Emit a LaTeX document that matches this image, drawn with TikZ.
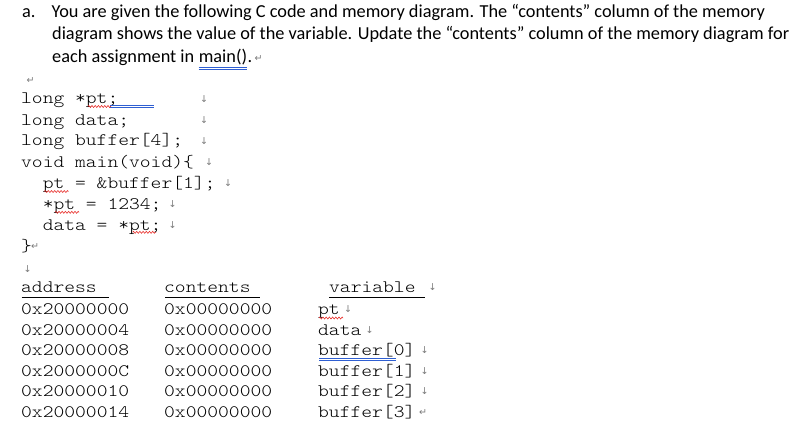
\documentclass[tikz,border=0pt]{standalone}
\usepackage{fontspec}
\setmainfont{Carlito}
\newfontfamily\cour{lmmonolt10-regular.otf}[FakeStretch=1.175]
\newfontfamily\dv{DejaVu Sans}
\usetikzlibrary{decorations.pathmorphing}
\definecolor{fmarkc}{HTML}{7A7A7A}
\definecolor{sqred}{HTML}{E8302C}
\definecolor{wblue}{HTML}{2F5FD2}
\begin{document}
\begin{tikzpicture}[x=1pt,y=-1pt,
 body/.style={anchor=base west,inner sep=0pt,font=\fontsize{18.3}{20}\selectfont},
 code/.style={anchor=base west,inner sep=0pt,font=\cour\fontsize{17.5}{21}\selectfont},
 fmark/.style={anchor=base west,inner sep=0pt,text=fmarkc,font=\dv\fontsize{9.5}{10}\selectfont},
 squig/.style={draw=sqred,line width=0.6pt,decorate,decoration={zigzag,segment length=3.2pt,amplitude=1pt}},
 dblline/.style={draw=wblue,line width=0.7pt},
 hline/.style={draw=black,line width=0.9pt}]
\useasboundingbox[fill=white] (0,0) rectangle (808,425);
% question text
\node[body] (qa) at (22,17.5) {a.};
\node[body] (q1) at (51.5,17.5) {You are given the following C code and memory diagram. The “contents” column of the memory};
\node[body] (q2) at (52,40) {diagram shows the value of the variable. Update the “contents” column of the memory diagram for};
\node[body] (q3a) at (52,63) {each assignment in};
\node[body] (q3b) at ([xshift=4.1pt]q3a.base east) {main()};
\node[body] (q3c) at (q3b.base east) {.};
\node[fmark] (m0) at ([xshift=2pt,yshift=1pt]q3c.base east) {↵};
\draw[dblline] ([yshift=-4.2pt]q3b.base west) -- ([yshift=-4.2pt]q3b.base east);
\draw[dblline] ([yshift=-6.4pt]q3b.base west) -- ([yshift=-6.4pt]q3b.base east);
\node[fmark] (m1) at (26.5,84) {↵};
% code
\node[code] (c1) at (21,104) {long\ *pt;};
\node[code] (c2) at (21,125) {long\ data;};
\node[code] (c3) at (21,146) {long\ buffer[4];};
\node[code] (c4) at (21,167) {void\ main(void)\{};
\node[code] (c5) at (21,188) {\ \ pt\ =\ \&buffer[1];};
\node[code] (c6) at (21,209) {\ \ *pt\ =\ 1234;};
\node[code] (c7) at (21,230) {\ \ data\ =\ *pt;};
\node[code] (c8) at (21,251) {\}};
\node[fmark] (k1) at (200,102.5) {↓};
\node[fmark] (k2) at (200,123.5) {↓};
\node[fmark] (k3) at (200,144.5) {↓};
\node[fmark] (k4) at (205,165.5) {↓};
\node[fmark] (k5) at (224,186.5) {↓};
\node[fmark] (k6) at (168.5,207.5) {↓};
\node[fmark] (k7) at (168.5,228.5) {↓};
\node[fmark] (k8) at (31,249.5) {↵};
\node[fmark] (k9) at (23.5,272) {↓};
\draw[squig] (88,106.5) -- (111,106.5);
\draw[dblline] (110,105.4) -- (154,105.4);
\draw[dblline] (110,107.8) -- (154,107.8);
\draw[squig] (44.3,191.5) -- (68.3,191.5);
\draw[squig] (55,212.3) -- (79,212.3);
\draw[squig] (132.7,232.3) -- (156,232.3);
% memory table
\node[code] (ha) at (21,292.5) {address};
\node[code] (hc) at (164,292.5) {contents};
\node[code] (hv) at (329,292.5) {variable};
\node[fmark] (hm) at (428.5,290.5) {↓};
\draw[hline] (21.7,297.2) -- (109.3,297.2);
\draw[hline] (165,297.2) -- (260,297.2);
\draw[hline] (329.3,297.2) -- (425,297.2);
\foreach \i/\ad/\va/\mx/\mk in {0/0x20000000/pt/344/↓,1/0x20000004/data/365.5/↓,2/0x20000008/buffer[0]/420.5/↓,3/0x2000000C/buffer[1]/420.5/↓,4/0x20000010/buffer[2]/420.5/↓,5/0x20000014/buffer[3]/419/↵}{
  \node[code] (a\i) at (21,314.5+20.5*\i) {\ad};
  \node[code] (v\i) at (164,314.5+20.5*\i) {0x00000000};
  \node[code] (n\i) at (318,314.5+20.5*\i) {\va};
  \node[fmark] (r\i) at (\mx,312.5+20.5*\i) {\mk};
}
\draw[squig] (319,318) -- (343,318);
\draw[dblline] (319.3,358.3) -- (396,358.3);
\draw[dblline] (319.3,360.6) -- (396,360.6);
\end{tikzpicture}
\end{document}
